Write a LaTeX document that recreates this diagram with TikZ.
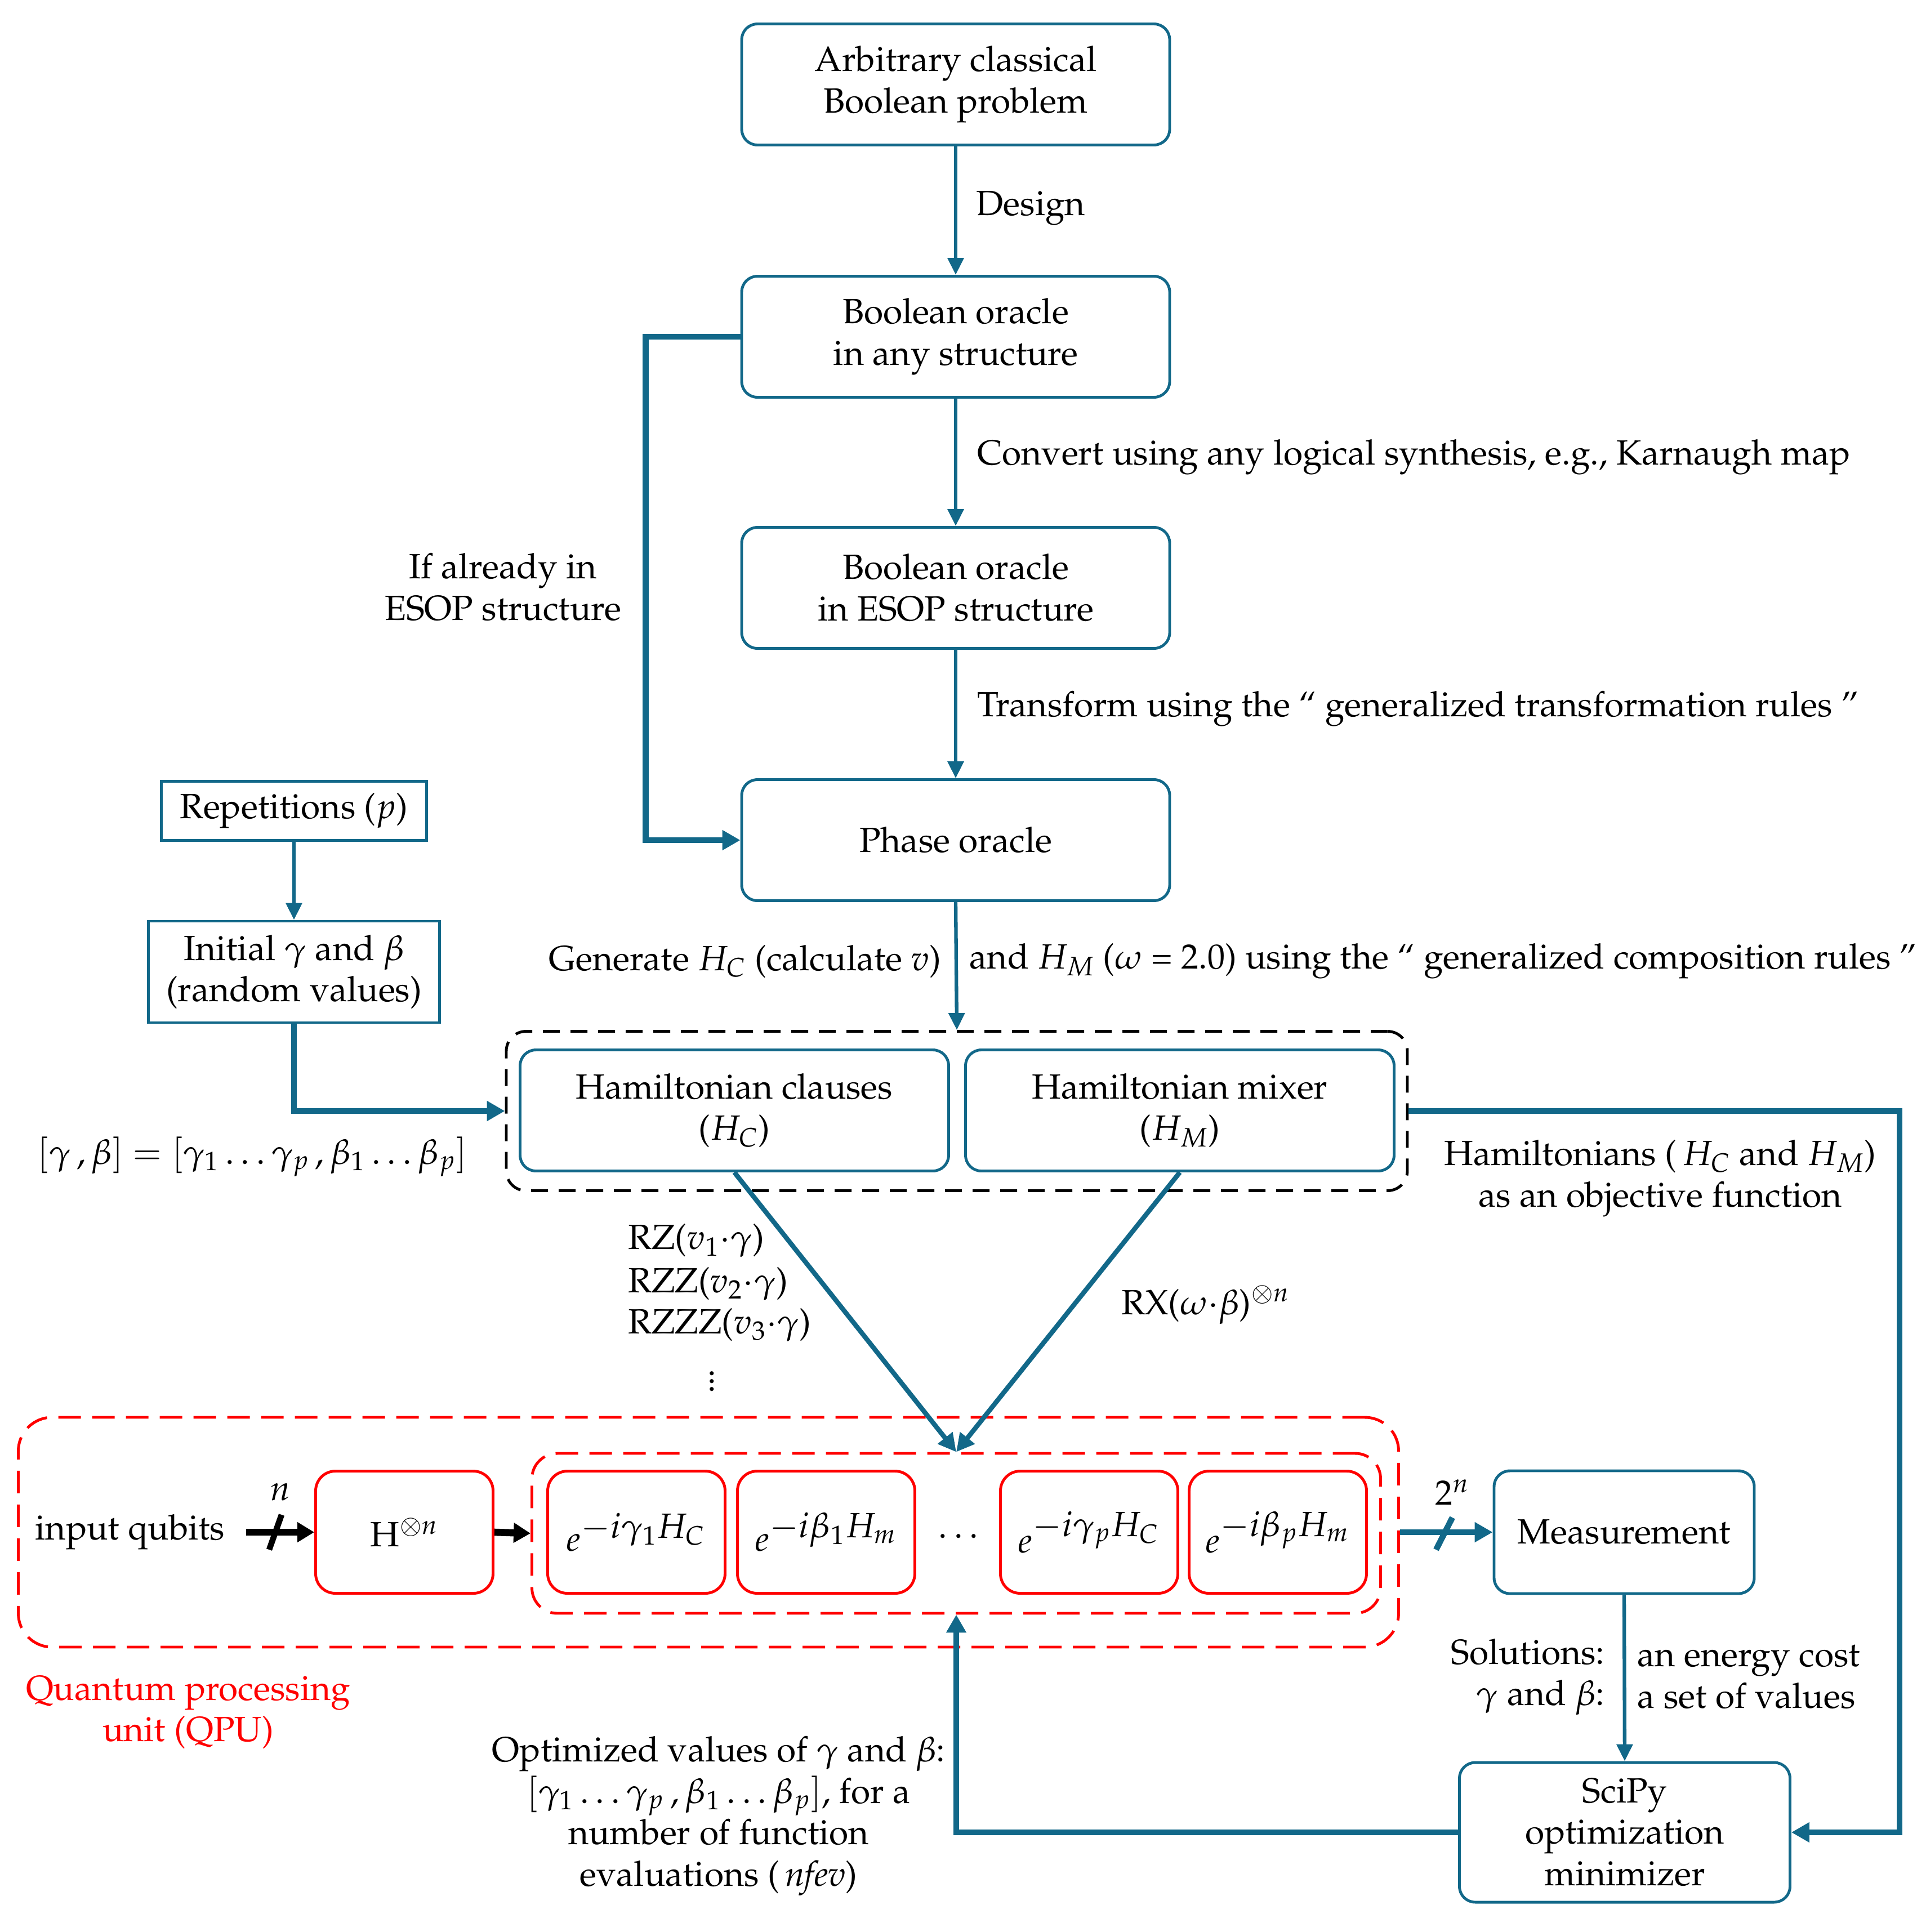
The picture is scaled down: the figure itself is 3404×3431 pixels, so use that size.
\documentclass[tikz,border=0pt]{standalone}
\usepackage[T1]{fontenc}
\usepackage{mathpazo}
\usetikzlibrary{arrows.meta}
\definecolor{qblue}{RGB}{18,104,137}
\begin{document}
\begin{tikzpicture}[x=0.1mm,y=-0.1mm,
  every node/.style={font=\fontsize{17.7}{21}\selectfont, inner sep=0pt},
  bbox/.style={draw=qblue, line width=1.4pt, rounded corners=2.8mm, align=center},
  sbox/.style={draw=qblue, line width=1.4pt, align=center},
  rbox/.style={draw=red, line width=1.4pt, rounded corners=3.5mm, align=center, minimum width=31.5mm, minimum height=21.7mm},
  mainbox/.style={bbox, minimum width=76mm, minimum height=21.5mm},
  hambox/.style={bbox, minimum width=76.1mm, minimum height=21.5mm},
  arr/.style={draw=qblue, line width=1.8pt, -{Triangle[length=3mm,width=2.8mm]}},
  arrthick/.style={draw=qblue, line width=3pt, -{Triangle[length=3.2mm,width=3.4mm]}},
  arrconv/.style={draw=qblue, line width=2.4pt, -{Triangle[length=3.2mm,width=3.2mm]}},
  blk/.style={draw=black, line width=3.6pt, -{Triangle[length=3mm,width=3.4mm]}},
  lbl/.style={align=center},
  blkdash/.style={draw=black, line width=1.4pt, dash pattern=on 3mm off 1.9mm, rounded corners=3.5mm},
  reddash/.style={draw=red, line width=1.4pt, dash pattern=on 4mm off 2mm},
]
\useasboundingbox (0,0) rectangle (3404,3431);

% main chain
\node[mainbox] (b1) at (1697,150) {Arbitrary classical\\Boolean problem};
\node[mainbox] (b2) at (1697,598) {Boolean oracle\\in any structure};
\node[mainbox] (b3) at (1697,1044) {Boolean oracle\\in ESOP structure};
\node[mainbox] (b4) at (1697,1492) {Phase oracle};

\draw[arr] (b1.south) -- (b2.north);
\draw[arr] (b2.south) -- (b3.north);
\draw[arr] (b3.south) -- (b4.north);
\draw[arrthick] (b2.west) -- ++(-168,0) |- (b4.west);

\node[anchor=west] (ldesign) at (1733,370) {Design};
\node[anchor=west] (lconv) at (1735,812) {Convert using any logical synthesis, e.g., Karnaugh map};
\node[anchor=west] (ltrans) at (1735,1259) {Transform using the `` generalized transformation rules ''};
\node[lbl] (lalready) at (893,1043) {If already in\\ESOP structure};

% parameters
\node[sbox, minimum width=47.1mm, minimum height=10.5mm] (rep) at (522,1440) {Repetitions ($p$)};
\node[sbox, minimum width=51.7mm, minimum height=18mm] (init) at (522,1726) {Initial $\gamma$ and $\beta$\\(random values)};
\draw[arr] (rep.south) -- (init.north);
\node (lparam) at (448,2054) {$[\gamma\,,\beta] = [\gamma_1 \dots \gamma_p\,, \beta_1 \dots \beta_p]$};

% Hamiltonians
\node[blkdash, minimum width=160mm, minimum height=28.3mm] (dbox) at (1699,1973) {};
\node[hambox] (hc) at (1304,1972) {Hamiltonian clauses\\($H_C$)};
\node[hambox] (hm) at (2095,1972) {Hamiltonian mixer\\($H_M$)};
\draw[arr] (b4.south) -- (dbox.north);
\draw[arrthick] (init.south) |- (dbox.west);

\node[anchor=east] (lgen1) at (1672,1707) {Generate $H_C$ (calculate $v$)};
\node[anchor=west] (lgen2) at (1721,1707) {and $H_M$ ($\omega$ = 2.0) using the `` generalized composition rules ''};

\node[lbl] (lobj) at (2948,2093) {Hamiltonians (\,$H_C$ and $H_M$)\\as an objective function};

\node[anchor=west] (lrz1) at (1115,2203) {RZ($v_1{\cdot}\gamma$)};
\node[anchor=west] (lrz2) at (1115,2280) {RZZ($v_2{\cdot}\gamma$)};
\node[anchor=west] (lrz3) at (1115,2353) {RZZZ($v_3{\cdot}\gamma$)};
\node (lvd) at (1264,2442) {$\vdots$};
\node[anchor=west] (lrx) at (1991,2317) {RX($\omega{\cdot}\beta$)$^{\otimes n}$};

% QPU
\node[reddash, rounded corners=6mm, minimum width=245.1mm, minimum height=40.8mm] (qpu) at (1258,2721) {};
\node[reddash, rounded corners=4.5mm, minimum width=150.7mm, minimum height=28.4mm] (inner) at (1698,2723) {};
\node[rbox] (hbox) at (718,2721) {H$^{\otimes n}$};
\node[rbox] (e1) at (1130,2721) {$e^{\textstyle -i\gamma_1 H_C}$};
\node[rbox] (e2) at (1467,2721) {$e^{\textstyle -i\beta_1 H_m}$};
\node (ldots) at (1702,2728) {$\dots$};
\node[rbox] (e3) at (1934,2721) {$e^{\textstyle -i\gamma_p H_C}$};
\node[rbox] (e4) at (2269,2721) {$e^{\textstyle -i\beta_p H_m}$};

\node[anchor=west] (linq) at (62,2721) {input qubits};
\coordinate (qin) at (437,2721);
\draw[blk] (qin) -- (hbox.west);
\draw[line width=3pt] (478,2752) -- (500,2690);
\node (ln) at (498,2650) {$n$};
\draw[blk] (hbox.east) -- (inner.west);

\node[text=red, lbl] (lqpu) at (334,3041) {Quantum processing\\unit (QPU)};

\draw[arrconv] (hc.south) -- (inner.north);
\draw[arrconv] (hm.south) -- (inner.north);

% measurement and optimizer
\node[bbox, minimum width=46.2mm, minimum height=21.8mm] (meas) at (2884,2721) {Measurement};
\node[bbox, minimum width=58.7mm, minimum height=24.8mm] (scipy) at (2885,3254) {SciPy\\optimization\\minimizer};

\draw[arrthick] (qpu.east) -- (meas.west);
\draw[qblue, line width=3pt] (2550,2752) -- (2579,2695);
\node (l2n) at (2579,2650) {2$^n$};

\draw[arr] (meas.south) -- (scipy.north);
\node[anchor=east, align=right] (lsol) at (2850,2978) {Solutions:\\$\gamma$ and $\beta$:};
\node[anchor=west, align=left] (lcost) at (2907,2978) {an energy cost\\a set of values};

\coordinate (objc) at (3373,1973);
\draw[arrthick] (dbox.east) -- (objc) |- (scipy.east);
\draw[arrthick] (scipy.west) -| (inner.south);

\node[lbl] (lopt) at (1276,3225) {Optimized values of $\gamma$ and $\beta$:\\$[\gamma_1 \dots \gamma_p\,, \beta_1 \dots \beta_p]$, for a\\number of function\\evaluations (\,$\mathit{nfev}$)};

\end{tikzpicture}
\end{document}
